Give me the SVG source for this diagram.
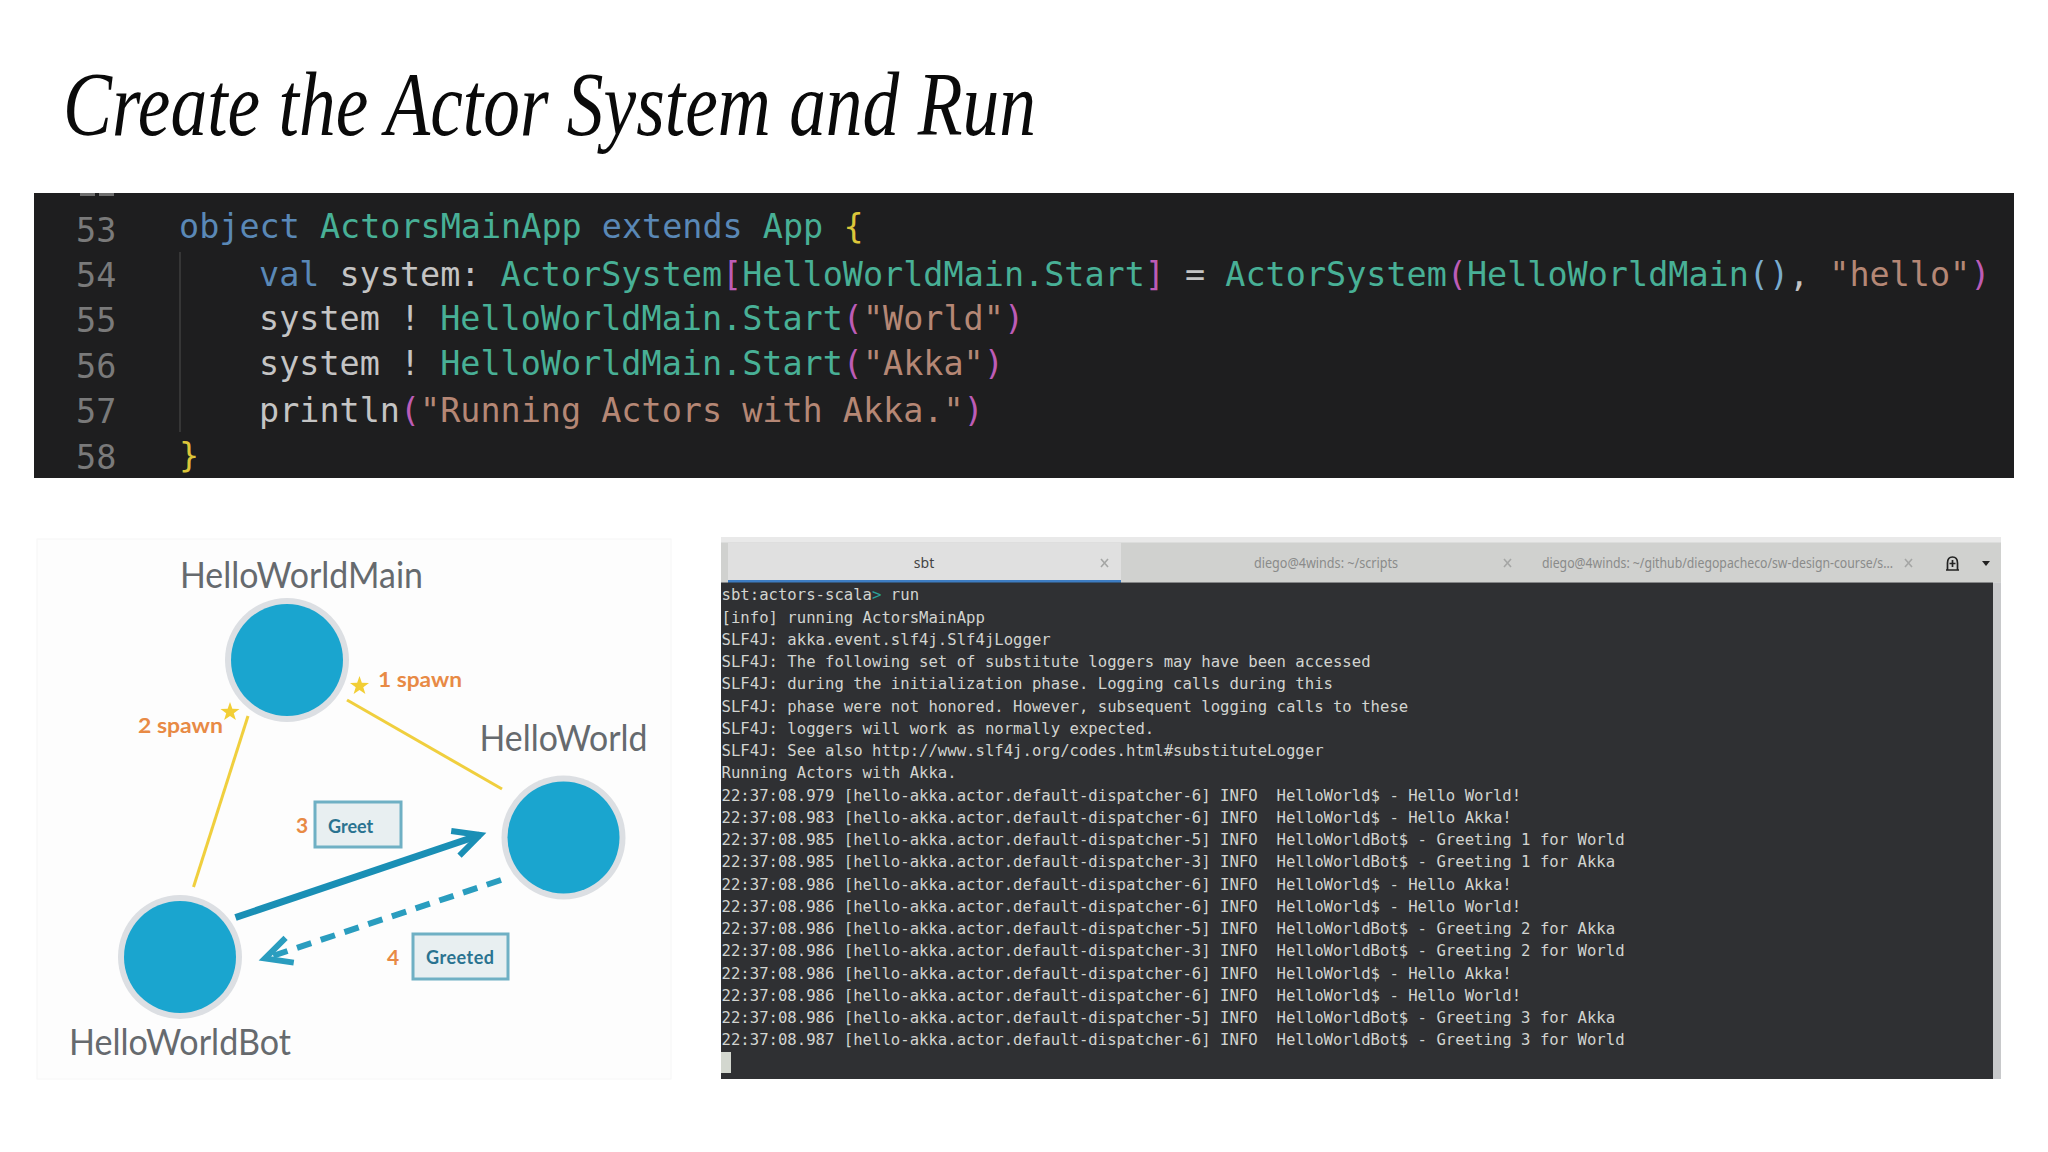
<svg xmlns="http://www.w3.org/2000/svg" width="2048" height="1152" viewBox="0 0 2048 1152">
<style>
text{white-space:pre}
.code{font-family:"DejaVu Sans Mono",monospace;font-size:33.45px;fill:#c4c4c4}
.ln{font-family:"DejaVu Sans Mono",monospace;font-size:33.45px;fill:#7a7a7a}
.kw{fill:#5a88b6}.ty{fill:#48b096}.st{fill:#b58775}.br{fill:#bd5cb6}.yl{fill:#dcc63a}.bl{fill:#7aaccf}
.term{font-family:"DejaVu Sans Mono",monospace;font-size:15.64px;fill:#d2d4d0}
.tab{font-family:"Noto Sans",sans-serif;font-size:14px;fill:#8a8b8a}
.x{stroke:#a5a6a5;stroke-width:1.6;fill:none}
.name{font-family:Lato,sans-serif;font-size:37px;fill:#666a6e}
.ord{font-family:Lato,sans-serif;font-weight:700;font-size:21px;fill:#e88a45}
.msg{font-family:Lato,sans-serif;font-weight:700;font-size:18px;fill:#2a7390}
.box{fill:#e8eff1;stroke:#6fb0c4;stroke-width:3}
.outer{fill:#dcdfe3}.inner{fill:#1aa5cf}
.spawn{stroke:#f0cf3e;stroke-width:3;fill:none}
.star{fill:#f2ce35}
</style>
<defs>
<marker id="head" markerUnits="userSpaceOnUse" markerWidth="44" markerHeight="44" viewBox="-36 -22 44 44" refX="0" refY="0" orient="auto">
<path d="M-26,-13 L0,0 L-26,13" fill="none" stroke="context-stroke" stroke-width="6"/>
</marker>
<polygon id="starShape" points="0,-10 2.35,-3.24 9.51,-3.09 3.8,1.24 5.88,8.09 0,4 -5.88,8.09 -3.8,1.24 -9.51,-3.09 -2.35,-3.24"/>
</defs>
<rect width="2048" height="1152" fill="#ffffff"/>

<text id="title" x="63" y="135" font-family="Liberation Serif, serif" font-style="italic" font-size="92" fill="#0a0a0a" textLength="973" lengthAdjust="spacingAndGlyphs">Create the Actor System and Run</text>

<g id="code-panel">
<rect x="34" y="193" width="1980" height="285" fill="#1e1e1f"/>
<rect x="80" y="193" width="15" height="3" fill="#6f6f6f"/><rect x="99" y="193" width="15" height="3" fill="#6f6f6f"/>
<line x1="180" y1="252" x2="180" y2="432" stroke="#3f3f3f" stroke-width="1.5"/>
<text class="ln" x="76" y="242">53</text>
<text class="ln" x="76" y="287">54</text>
<text class="ln" x="76" y="331.5">55</text>
<text class="ln" x="76" y="378">56</text>
<text class="ln" x="76" y="423">57</text>
<text class="ln" x="76" y="469">58</text>
<text class="code" x="179" y="238"><tspan class="kw">object</tspan> <tspan class="ty">ActorsMainApp</tspan> <tspan class="kw">extends</tspan> <tspan class="ty">App</tspan> <tspan class="yl">{</tspan></text>
<text class="code" x="259" y="285.5"><tspan class="kw">val</tspan> system: <tspan class="ty">ActorSystem</tspan><tspan class="br">[</tspan><tspan class="ty">HelloWorldMain.Start</tspan><tspan class="br">]</tspan> = <tspan class="ty">ActorSystem</tspan><tspan class="br">(</tspan><tspan class="ty">HelloWorldMain</tspan><tspan class="bl">()</tspan>, <tspan class="st">"hello"</tspan><tspan class="br">)</tspan></text>
<text class="code" x="259" y="330">system ! <tspan class="ty">HelloWorldMain.Start</tspan><tspan class="br">(</tspan><tspan class="st">"World"</tspan><tspan class="br">)</tspan></text>
<text class="code" x="259" y="375">system ! <tspan class="ty">HelloWorldMain.Start</tspan><tspan class="br">(</tspan><tspan class="st">"Akka"</tspan><tspan class="br">)</tspan></text>
<text class="code" x="259" y="421.5">println<tspan class="br">(</tspan><tspan class="st">"Running Actors with Akka."</tspan><tspan class="br">)</tspan></text>
<text class="code" x="179" y="467"><tspan class="yl">}</tspan></text>
</g>

<rect id="diagram-panel" x="37" y="539" width="634" height="540" fill="#fdfdfd" stroke="#f6f6f6" stroke-width="1"/>

<g id="connectors">
<line class="spawn" x1="347" y1="700" x2="502" y2="789"/>
<line class="spawn" x1="248" y1="716" x2="193.5" y2="887"/>
<line x1="235.5" y1="917.5" x2="480" y2="835" stroke="#1a8fb5" stroke-width="7" marker-end="url(#head)"/>
<line x1="501" y1="880" x2="265" y2="958.5" stroke="#2a9dbf" stroke-width="6" stroke-dasharray="15 10" marker-end="url(#head)"/>
</g>

<g id="HelloWorldMain">
<text class="name" x="180" y="588" textLength="243" lengthAdjust="spacingAndGlyphs">HelloWorldMain</text>
<circle class="outer" cx="287" cy="660" r="62"/><circle class="inner" cx="287" cy="660" r="56"/>
</g>
<g id="HelloWorld">
<text class="name" x="479.5" y="751" textLength="168" lengthAdjust="spacingAndGlyphs">HelloWorld</text>
<circle class="outer" cx="563.5" cy="837.5" r="62"/><circle class="inner" cx="563.5" cy="837.5" r="56"/>
</g>
<g id="HelloWorldBot">
<text class="name" x="69" y="1055" textLength="222" lengthAdjust="spacingAndGlyphs">HelloWorldBot</text>
<circle class="outer" cx="180" cy="957" r="62"/><circle class="inner" cx="180" cy="957" r="56"/>
</g>

<g id="spawn-1">
<use href="#starShape" class="star" x="359.5" y="686"/>
<text class="ord" x="378" y="687" textLength="84" lengthAdjust="spacingAndGlyphs">1 spawn</text>
</g>
<g id="spawn-2">
<use href="#starShape" class="star" x="230" y="712"/>
<text class="ord" x="138" y="732.5" textLength="85" lengthAdjust="spacingAndGlyphs">2 spawn</text>
</g>
<g id="greet">
<text class="ord" x="296" y="833">3</text>
<rect class="box" x="315" y="802" width="86" height="45"/>
<text class="msg" x="328" y="832.5">Greet</text>
</g>
<g id="greeted">
<text class="ord" x="387" y="965">4</text>
<rect class="box" x="413" y="934" width="95" height="45"/>
<text class="msg" x="426" y="964" textLength="68">Greeted</text>
</g>

<g id="terminal">
<rect x="721" y="537" width="1280" height="542" fill="#e9e9e9"/>
<rect x="721" y="542.5" width="1280" height="40" fill="#d0d1cf"/>
<rect x="728" y="542.5" width="393" height="37.5" fill="#e0e0e0"/>
<rect x="728" y="580" width="393" height="3" fill="#3d7cc2"/>
<rect x="721" y="582.5" width="1272" height="496.5" fill="#2f3033"/>
<rect x="1993" y="582.5" width="8" height="496.5" fill="#c8c9cb"/>
<text class="tab" x="924" y="567.5" text-anchor="middle" style="fill:#444">sbt</text>
<path class="x" d="M1101,559 l7,8 M1108,559 l-7,8"/>
<text class="tab" x="1254" y="567.5" textLength="144" lengthAdjust="spacingAndGlyphs">diego@4winds: ~/scripts</text>
<path class="x" d="M1504,559 l7,8 M1511,559 l-7,8"/>
<text class="tab" x="1542" y="567.5" textLength="351" lengthAdjust="spacingAndGlyphs">diego@4winds: ~/github/diegopacheco/sw-design-course/s...</text>
<path class="x" d="M1905,559 l7,8 M1912,559 l-7,8"/>
<path d="M1946,570 h13 M1947.5,570 v-7 q0,-6 5,-6 q5,0 5,6 v7 M1952.5,560 v7 M1949.5,563.5 h6" fill="none" stroke="#222" stroke-width="1.7"/>
<path d="M1982,561 h8 l-4,5 z" fill="#222"/>
<text class="term" x="721.5" y="600.3">sbt:actors-scala<tspan fill="#2aa198">&gt;</tspan> run</text>
<text class="term" x="721.5" y="622.5">[info] running ActorsMainApp</text>
<text class="term" x="721.5" y="644.8">SLF4J: akka.event.slf4j.Slf4jLogger</text>
<text class="term" x="721.5" y="667">SLF4J: The following set of substitute loggers may have been accessed</text>
<text class="term" x="721.5" y="689.3">SLF4J: during the initialization phase. Logging calls during this</text>
<text class="term" x="721.5" y="711.5">SLF4J: phase were not honored. However, subsequent logging calls to these</text>
<text class="term" x="721.5" y="733.8">SLF4J: loggers will work as normally expected.</text>
<text class="term" x="721.5" y="756">SLF4J: See also http://www.slf4j.org/codes.html#substituteLogger</text>
<text class="term" x="721.5" y="778.3">Running Actors with Akka.</text>
<text class="term" x="721.5" y="800.5">22:37:08.979 [hello-akka.actor.default-dispatcher-6] INFO  HelloWorld$ - Hello World!</text>
<text class="term" x="721.5" y="822.8">22:37:08.983 [hello-akka.actor.default-dispatcher-6] INFO  HelloWorld$ - Hello Akka!</text>
<text class="term" x="721.5" y="845">22:37:08.985 [hello-akka.actor.default-dispatcher-5] INFO  HelloWorldBot$ - Greeting 1 for World</text>
<text class="term" x="721.5" y="867.3">22:37:08.985 [hello-akka.actor.default-dispatcher-3] INFO  HelloWorldBot$ - Greeting 1 for Akka</text>
<text class="term" x="721.5" y="889.5">22:37:08.986 [hello-akka.actor.default-dispatcher-6] INFO  HelloWorld$ - Hello Akka!</text>
<text class="term" x="721.5" y="911.8">22:37:08.986 [hello-akka.actor.default-dispatcher-6] INFO  HelloWorld$ - Hello World!</text>
<text class="term" x="721.5" y="934">22:37:08.986 [hello-akka.actor.default-dispatcher-5] INFO  HelloWorldBot$ - Greeting 2 for Akka</text>
<text class="term" x="721.5" y="956.3">22:37:08.986 [hello-akka.actor.default-dispatcher-3] INFO  HelloWorldBot$ - Greeting 2 for World</text>
<text class="term" x="721.5" y="978.5">22:37:08.986 [hello-akka.actor.default-dispatcher-6] INFO  HelloWorld$ - Hello Akka!</text>
<text class="term" x="721.5" y="1000.8">22:37:08.986 [hello-akka.actor.default-dispatcher-6] INFO  HelloWorld$ - Hello World!</text>
<text class="term" x="721.5" y="1023">22:37:08.986 [hello-akka.actor.default-dispatcher-5] INFO  HelloWorldBot$ - Greeting 3 for Akka</text>
<text class="term" x="721.5" y="1045.3">22:37:08.987 [hello-akka.actor.default-dispatcher-6] INFO  HelloWorldBot$ - Greeting 3 for World</text>
<rect x="721" y="1052" width="10" height="21" fill="#d3d7cf"/>
</g>
</svg>
